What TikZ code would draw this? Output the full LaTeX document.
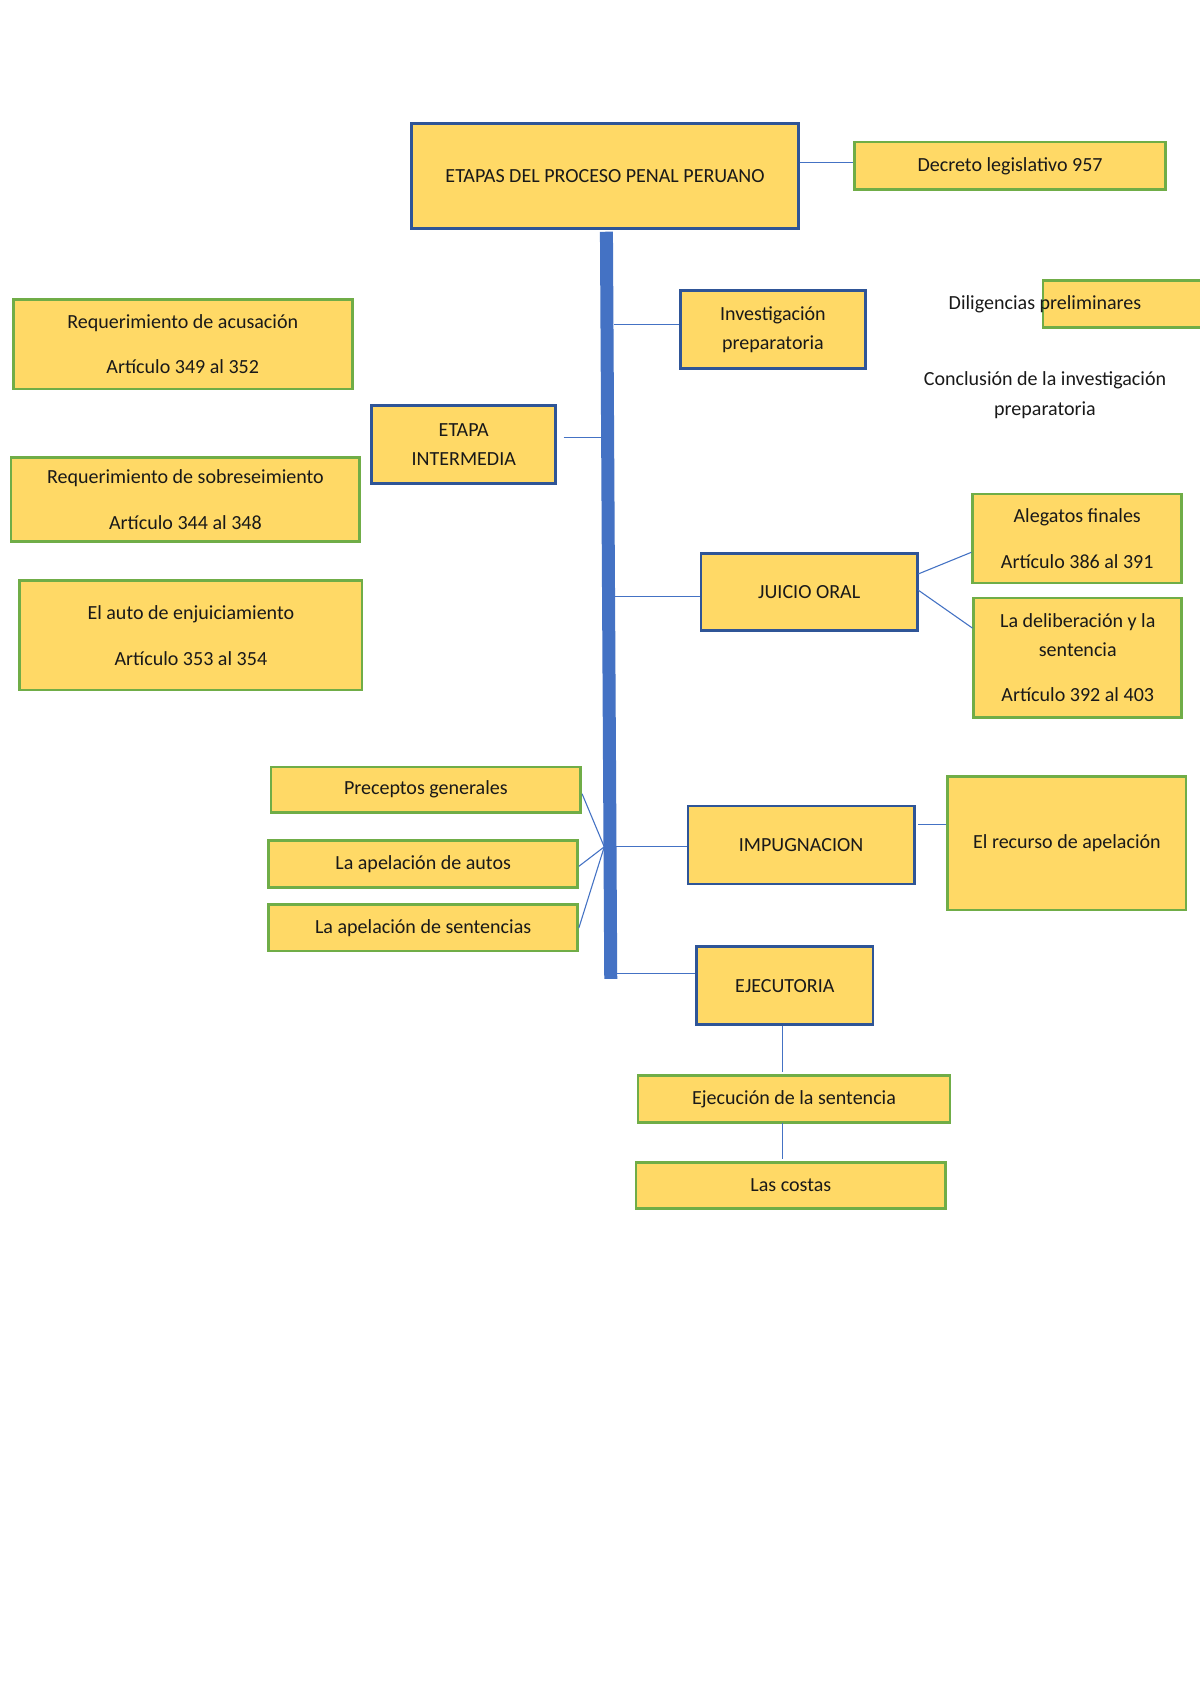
\documentclass[tikz,border=0pt]{standalone}
\usepackage{fontspec}
\setmainfont{Carlito}
\begin{document}
\begin{tikzpicture}[x=1pt,y=-1pt,
  base/.style={fill=boxfill,line width=2.5pt,anchor=north west,inner sep=0pt,align=center,font=\fontsize{18.5}{27}\selectfont,text=black!90},
  bb/.style={base,draw=bord},
  gb/.style={base,draw=grn},
  con/.style={draw=spine,line width=1pt},
  txt/.style={font=\fontsize{18.5}{27}\selectfont,align=center,text=black!90}]
\definecolor{boxfill}{HTML}{FFD966}
\definecolor{bord}{HTML}{2F5597}
\definecolor{grn}{HTML}{70AD47}
\definecolor{spine}{HTML}{4472C4}
\useasboundingbox (0,0) rectangle (1108,1568);
\fill[white] (0,0) rectangle (1108,1568);
% spine
\coordinate (s1) at (560,214);
\coordinate (s2) at (564,904);
\draw[spine,line width=12pt] (s1) -- (s2);
\node[bb,minimum width=357,minimum height=97] (title) at (379,113) {ETAPAS DEL PROCESO PENAL PERUANO};
\node[gb,minimum width=287,minimum height=44] (dec) at (788,130) {Decreto legislativo 957};
\draw[con] (title.east |- 0,150) -- (dec.west |- 0,150);
% Investigacion
\node[bb,minimum width=171,minimum height=72] (inv) at (627,267) {Investigación\\preparatoria};
\coordinate (c1) at (567,300);
\draw[con] (c1) -- (inv.west |- c1);
\node[gb,minimum width=160,minimum height=43] (dil) at (962,258) {};
\node[txt] (diltxt) at (965,281) {Diligencias preliminares};
\node[txt] (conc) at (965,365) {Conclusión de la investigación\\preparatoria};
% intermedia
\node[gb,minimum width=313,minimum height=83] (acu) at (11,275) {Requerimiento de acusación\\[15pt]Artículo 349 al 352};
\node[bb,minimum width=170,minimum height=72] (int) at (342,373) {ETAPA\\INTERMEDIA};
\coordinate (c2) at (556,404);
\draw[con] (int.east |- c2) ++(6,0) -- (c2);
\node[gb,minimum width=322,minimum height=78] (sob) at (9,421) {Requerimiento de sobreseimiento\\[15pt]Artículo 344 al 348};
\node[gb,minimum width=316,minimum height=101] (auto) at (17,535) {El auto de enjuiciamiento\\[15pt]Artículo 353 al 354};
% juicio oral
\node[bb,minimum width=200,minimum height=71] (jo) at (646,510) {JUICIO ORAL};
\coordinate (c3) at (567,551);
\draw[con] (c3) -- (jo.west |- c3);
\node[gb,minimum width=193,minimum height=82] (ale) at (897,455) {Alegatos finales\\[15pt]Artículo 386 al 391};
\node[gb,minimum width=192,minimum height=110] (del) at (898,551) {La deliberación y la\\sentencia\\[15pt]Artículo 392 al 403};
\draw[con] (848,530) -- (ale.west |- 0,510);
\draw[con] (848,545) -- (del.west |- 0,580);
% impugnacion
\node[gb,minimum width=286,minimum height=42] (pre) at (249,707) {Preceptos generales};
\node[gb,minimum width=285,minimum height=43] (aut) at (247,775) {La apelación de autos};
\node[gb,minimum width=285,minimum height=43] (sen) at (247,834) {La apelación de sentencias};
\coordinate (c4) at (558,782);
\draw[con] (pre.east |- 0,733) -- (c4);
\draw[con] (aut.east |- 0,800) -- (c4);
\draw[con] (sen.east |- 0,857) -- (c4);
\node[bb,minimum width=209,minimum height=72] (imp) at (634,743) {IMPUGNACION};
\coordinate (c5) at (567,782);
\draw[con] (c5) -- (imp.west |- c5);
\node[gb,minimum width=220,minimum height=123] (rec) at (874,716) {El recurso de apelación};
\draw[con] (848,761) -- (rec.west |- 0,761);
% ejecutoria
\node[bb,minimum width=163,minimum height=72] (eje) at (642,873) {EJECUTORIA};
\coordinate (c6) at (570,899);
\draw[con] (c6) -- (eje.west |- c6);
\node[gb,minimum width=288,minimum height=43] (ejs) at (588,992) {Ejecución de la sentencia};
\node[gb,minimum width=286,minimum height=43] (cos) at (586,1072) {Las costas};
\draw[con] (723,947) -- (723,990);
\draw[con] (723,1037) -- (723,1070);
\end{tikzpicture}
\end{document}
